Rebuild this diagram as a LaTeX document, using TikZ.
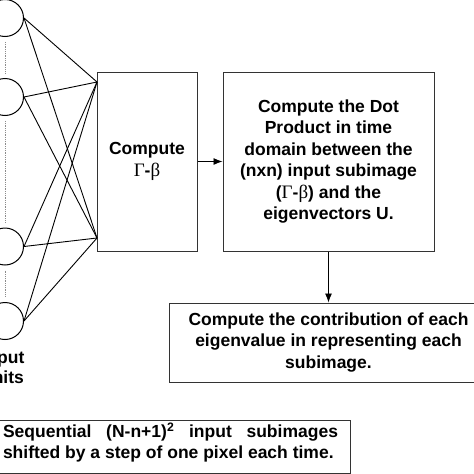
\documentclass[tikz,border=0pt]{standalone}
\usepackage{fontspec}
\setmainfont{Liberation Sans}
\newfontfamily\grkfont{Liberation Serif}
\newcommand{\grk}[1]{{\grkfont\mdseries\fontsize{19}{21.5}\selectfont #1}}
\usetikzlibrary{arrows.meta}
\begin{document}
\begin{tikzpicture}[x=1pt,y=-1pt]
        \tikzstyle{unit}=[circle,draw=black,line width=1pt,minimum size=37pt,inner sep=0pt]
        \tikzstyle{stage}=[rectangle,draw=black!80,line width=1pt,align=center,inner sep=0pt,
                           font=\fontsize{17.5}{21.5}\selectfont\bfseries]
        \tikzstyle{edge}=[draw,line width=0.9pt]
        \tikzstyle{flow}=[draw,line width=0.9pt,-{Latex[length=9pt,width=7pt]}]
        \tikzstyle{gap}=[draw=black!45,densely dotted,line width=0.8pt,shorten <=5pt,shorten >=5pt]
       \clip (0,0) rectangle (474,474);
       \begin{scope}
         \node [unit] (u1) at (5,18) {};
         \node [unit] (u2) at (5,97) {};
         \node [unit] (u3) at (5,246.5) {};
         \node [unit] (u4) at (5,321) {};
         \node [font=\fontsize{17.5}{20}\selectfont\bfseries,align=center] (units) at (3,367.5) {Input\\units};

         \node [stage,minimum width=100pt,minimum height=179pt] (diff) at (147,161.5)
               {Compute\\\grk{Γ}-\grk{β}};
         \node [stage,minimum width=211pt,minimum height=179pt] (dot) at (328.5,161.5)
               {Compute the Dot\\Product in time\\domain between the\\(nxn) input subimage\\(\grk{Γ}-\grk{β}) and the\\eigenvectors U.};
         \node [stage,minimum width=318pt,minimum height=79pt] (contrib) at (328.5,342.5)
               {Compute the contribution of each\\eigenvalue in representing each\\subimage.};
         \node [stage,minimum width=359pt,minimum height=53pt,text width=335pt,align=justify,
                font=\fontsize{17.5}{21}\selectfont\bfseries] (seq) at (170.5,446.5)
               {Sequential (N-n+1)\textsuperscript{2} input subimages\linebreak shifted by a step of one pixel each time.\rule[-12pt]{0pt}{12pt}};

         \coordinate (in1) at (97,82);
         \coordinate (in2) at (97,238);

         \path[gap] (u1) -- (u2);
         \path[gap] (u2) -- (u3);
         \path[gap] (u3) -- (u4);

         \path[edge] (u1.east) edge (in1) edge (in2);
         \path[edge] (u2.east) edge (in1) edge (in2);
         \path[edge] (u3.east) edge (in1) edge (in2);
         \path[edge] (u4.east) edge (in1) edge (in2);

         \path[flow] (diff) -- (dot);
         \path[flow] (dot) -- (contrib);
        \end{scope}
      \end{tikzpicture}
\end{document}
